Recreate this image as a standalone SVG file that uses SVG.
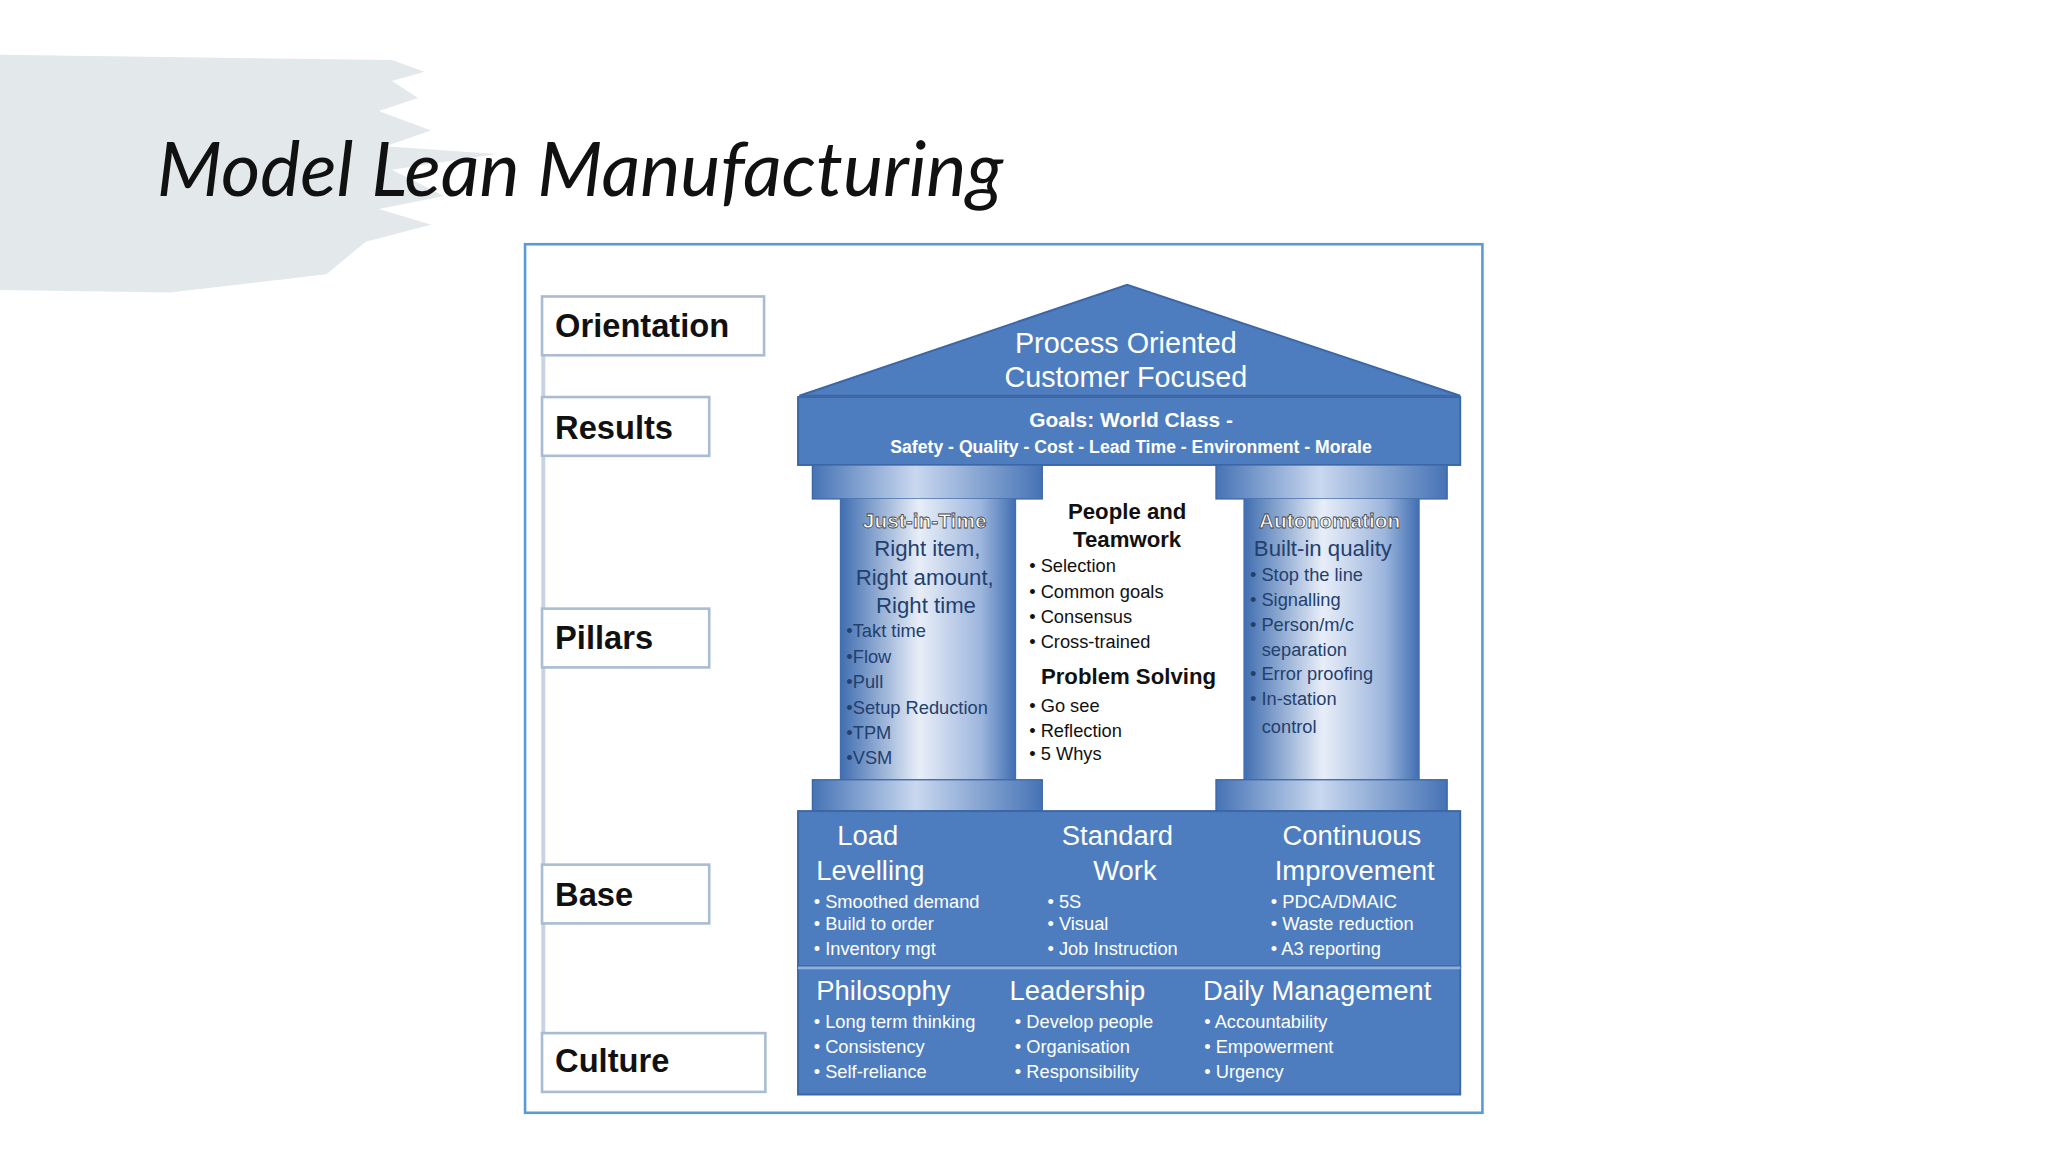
<svg xmlns="http://www.w3.org/2000/svg" width="2048" height="1152" viewBox="0 0 2048 1152">
<defs>
<linearGradient id="shaft" x1="0" y1="0" x2="1" y2="0">
<stop offset="0" stop-color="#3f6db0"/><stop offset="0.45" stop-color="#e8eef8"/><stop offset="0.8" stop-color="#9db6dd"/><stop offset="1" stop-color="#3f6db0"/>
</linearGradient>
<linearGradient id="cap" x1="0" y1="0" x2="1" y2="0">
<stop offset="0" stop-color="#4673b5"/><stop offset="0.45" stop-color="#c9d8ef"/><stop offset="1" stop-color="#4673b5"/>
</linearGradient>
<style>
.lbl{fill:#fff;stroke:#a9bcd2;stroke-width:2}
.lt{font-family:"Liberation Sans",Arial,sans-serif;font-weight:bold;font-size:25px;fill:#111}
.blue{fill:#4e7dbf;stroke:#3c67a6;stroke-width:1.5}
.w{font-family:"Liberation Sans",Arial,sans-serif;fill:#fff}
.d{font-family:"Liberation Sans",Arial,sans-serif;fill:#111}
.p{font-family:"Liberation Sans",Arial,sans-serif;fill:#23406e}
</style>
</defs>
<rect width="2048" height="1152" fill="#fff"/>
<g transform="scale(1.3061)">
<path d="M0 42 L300 46 L325 55 L300 62 L320 75 L290 85 L330 100 L295 112 L380 118 L300 130 L340 150 L290 160 L330 172 L280 185 L250 210 L130 224 L0 222 Z" fill="#e3e8ea"/>
<text x="120" y="150" font-family="Lato,'Open Sans',sans-serif" font-style="italic" font-size="58" fill="#111">Model Lean Manufacturing</text>
<rect x="402" y="187" width="733" height="665" fill="#fff" stroke="#5b9bd5" stroke-width="2"/>
<line x1="416" y1="250" x2="416" y2="815" stroke="#c7d3e0" stroke-width="3"/>
<g id="orientation"><rect class="lbl" x="415" y="227" width="170" height="45"/><text class="lt" x="425" y="258">Orientation</text></g>
<g id="results"><rect class="lbl" x="415" y="304" width="128" height="45"/><text class="lt" x="425" y="336">Results</text></g>
<g id="pillars"><rect class="lbl" x="415" y="466" width="128" height="45"/><text class="lt" x="425" y="497">Pillars</text></g>
<g id="base"><rect class="lbl" x="415" y="662" width="128" height="45"/><text class="lt" x="425" y="694">Base</text></g>
<g id="culture"><rect class="lbl" x="415" y="791" width="171" height="45"/><text class="lt" x="425" y="821">Culture</text></g>
<g id="roof">
<polygon class="blue" points="612,303 863,218 1118,303"/>
<text class="w" x="862" y="270" font-size="22" text-anchor="middle">Process Oriented</text>
<text class="w" x="862" y="296" font-size="22" text-anchor="middle">Customer Focused</text>
</g>
<g id="goals">
<rect class="blue" x="611" y="304" width="507" height="52"/>
<text class="w" x="866" y="327" font-size="16" font-weight="bold" text-anchor="middle">Goals: World Class -</text>
<text class="w" x="866" y="347" font-size="13.5" font-weight="bold" text-anchor="middle">Safety - Quality - Cost - Lead Time - Environment - Morale</text>
</g>
<g id="jit">
<rect x="622" y="356" width="176" height="26" fill="url(#cap)" stroke="#3c67a6"/>
<rect x="643" y="382" width="135" height="215" fill="url(#shaft)"/>
<rect x="622" y="597" width="176" height="24" fill="url(#cap)" stroke="#3c67a6"/>
<text class="w" x="708" y="404" font-size="16" font-weight="bold" text-anchor="middle" stroke="#444" stroke-width="0.6">Just-in-Time</text>
<g class="p" font-size="17" text-anchor="middle"><text x="710" y="426">Right item,</text><text x="708" y="448">Right amount,</text><text x="709" y="469">Right time</text></g>
<g class="p" font-size="14"><text x="648" y="488">•Takt time</text><text x="648" y="508">•Flow</text><text x="648" y="527">•Pull</text><text x="648" y="547">•Setup Reduction</text><text x="648" y="566">•TPM</text><text x="648" y="585">•VSM</text></g>
</g>
<g id="people">
<g class="d" font-size="17" font-weight="bold" text-anchor="middle"><text x="863" y="397">People and</text><text x="863" y="419">Teamwork</text><text x="864" y="524">Problem Solving</text></g>
<g class="d" font-size="14"><text x="788" y="438">• Selection</text><text x="788" y="458">• Common goals</text><text x="788" y="477">• Consensus</text><text x="788" y="496">• Cross-trained</text><text x="788" y="545">• Go see</text><text x="788" y="564">• Reflection</text><text x="788" y="582">• 5 Whys</text></g>
</g>
<g id="autonomation">
<rect x="931" y="356" width="177" height="26" fill="url(#cap)" stroke="#3c67a6"/>
<rect x="952" y="382" width="135" height="215" fill="url(#shaft)"/>
<rect x="931" y="597" width="177" height="24" fill="url(#cap)" stroke="#3c67a6"/>
<text class="w" x="1018" y="404" font-size="16" font-weight="bold" text-anchor="middle" stroke="#444" stroke-width="0.6">Autonomation</text>
<text class="p" x="960" y="426" font-size="17">Built-in quality</text>
<g class="p" font-size="14"><text x="957" y="445">• Stop the line</text><text x="957" y="464">• Signalling</text><text x="957" y="483">• Person/m/c</text><text x="966" y="502">separation</text><text x="957" y="521">• Error proofing</text><text x="957" y="540">• In-station</text><text x="966" y="561">control</text></g>
</g>
<g id="baseband">
<rect class="blue" x="611" y="621" width="507" height="119"/>
<g class="w" font-size="21"><text x="641" y="647">Load</text><text x="625" y="674">Levelling</text><text x="813" y="647">Standard</text><text x="837" y="674">Work</text><text x="982" y="647">Continuous</text><text x="976" y="674">Improvement</text></g>
<g class="w" font-size="14"><text x="623" y="695">• Smoothed demand</text><text x="623" y="712">• Build to order</text><text x="623" y="731">• Inventory mgt</text><text x="802" y="695">• 5S</text><text x="802" y="712">• Visual</text><text x="802" y="731">• Job Instruction</text><text x="973" y="695">• PDCA/DMAIC</text><text x="973" y="712">• Waste reduction</text><text x="973" y="731">• A3 reporting</text></g>
</g>
<g id="cultureband">
<rect class="blue" x="611" y="740" width="507" height="98"/>
<line x1="611" y1="741" x2="1118" y2="741" stroke="#8fb0dc" stroke-width="2"/>
<g class="w" font-size="21"><text x="625" y="766">Philosophy</text><text x="773" y="766">Leadership</text><text x="921" y="766">Daily Management</text></g>
<g class="w" font-size="14"><text x="623" y="787">• Long term thinking</text><text x="623" y="806">• Consistency</text><text x="623" y="825">• Self-reliance</text><text x="777" y="787">• Develop people</text><text x="777" y="806">• Organisation</text><text x="777" y="825">• Responsibility</text><text x="922" y="787">• Accountability</text><text x="922" y="806">• Empowerment</text><text x="922" y="825">• Urgency</text></g>
</g>
</g>
</svg>
